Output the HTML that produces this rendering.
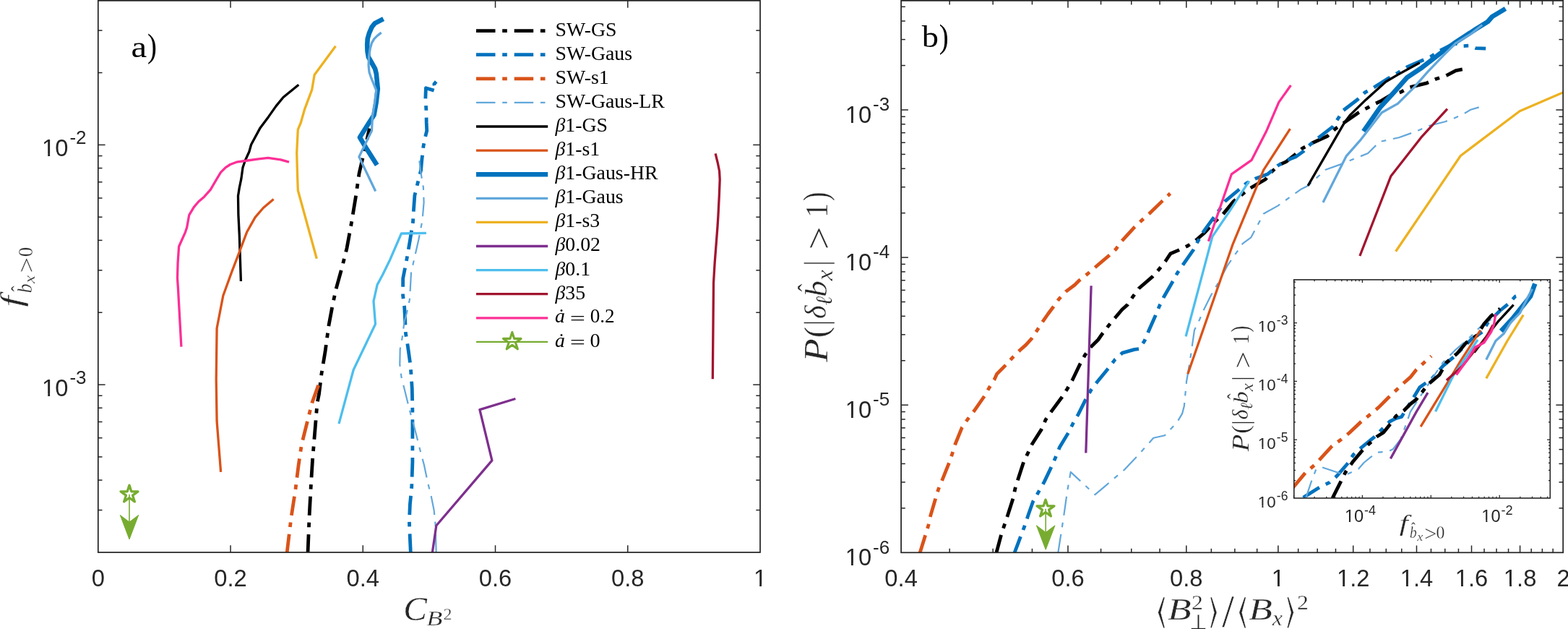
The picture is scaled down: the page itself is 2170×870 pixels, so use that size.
<!DOCTYPE html>
<html><head><meta charset="utf-8"><title>figure</title>
<style>html,body{margin:0;padding:0;background:#fff;}body{width:2170px;height:870px;overflow:hidden;}svg{display:block;}</style>
</head><body>
<svg width="2170" height="870" viewBox="0 0 2170 870">
<defs>
<clipPath id="cl"><rect x="135.8" y="0.9" width="916.2" height="763.1"/></clipPath>
<clipPath id="cr"><rect x="1247.1" y="0.9" width="916.0999999999999" height="763.4"/></clipPath>
<clipPath id="ci"><rect x="1790.8" y="386.9" width="354.5000000000002" height="302.1"/></clipPath>
</defs>
<rect width="2170" height="870" fill="#fff"/>
<g clip-path="url(#cl)">
<polyline points="511.4,177.6 497.0,240.0 492.7,270.0 486.7,306.7 480.0,343.3 473.3,370.0 465.0,400.0 460.0,423.3 455.0,450.0 450.0,486.7 445.0,516.7 441.5,545.0 439.0,557.4 435.5,600.5 432.6,634.9 430.3,672.3 428.0,715.4 425.8,770.0" fill="none" stroke="#000000" stroke-width="4.8" stroke-dasharray="26.5 9.7 6.6 9.9" stroke-dashoffset="10.53" stroke-linejoin="round" stroke-linecap="butt"/>
<polyline points="606.3,109.8 600.8,116.2 602.8,125.8 589.4,121.7 588.8,137.3 589.8,151.3 590.2,169.9 590.7,180.8 588.5,189.6 585.9,202.7 583.7,222.3 582.6,235.4 577.6,255.1 573.9,270.4 572.5,290.0 571.5,307.0 567.5,332.2 562.9,358.6 557.7,385.1 557.6,408.4 559.7,424.9 560.5,440.0 561.5,461.5 564.4,479.1 567.4,500.6 568.9,516.3 570.3,537.8 570.9,569.1 570.9,606.2 570.9,639.1 569.7,674.3 567.4,697.8 566.4,721.3 567.4,744.7 568.6,770.0" fill="none" stroke="#0072BD" stroke-width="4.8" stroke-dasharray="26.5 9.7 6.6 9.9" stroke-dashoffset="32.2" stroke-linejoin="round" stroke-linecap="butt"/>
<polyline points="440.6,532.9 431.8,557.4 424.6,586.1 417.4,614.8 413.1,643.6 408.8,678.0 403.0,715.4 396.5,770.0" fill="none" stroke="#D95319" stroke-width="4.8" stroke-dasharray="26.5 9.7 6.6 9.9" stroke-dashoffset="0.37" stroke-linejoin="round" stroke-linecap="butt"/>
<polyline points="580.4,222.3 582.6,239.8 585.9,259.5 586.6,280.0 584.5,304.8 579.3,331.8 573.1,358.7 569.0,377.3 568.0,395.9 566.9,414.6 562.8,433.2 559.6,445.0 556.6,467.4 553.7,483.0 553.3,504.5 555.6,522.1 559.6,537.8 564.4,557.3 568.4,573.0 571.3,582.7 576.5,603.0 581.1,621.5 586.9,643.0 591.8,666.5 596.7,686.1 600.6,705.6 602.6,725.2 603.8,770.0" fill="none" stroke="#62A7DB" stroke-width="2.2" stroke-dasharray="26.5 9.7 6.6 9.9" stroke-dashoffset="1.78" stroke-linejoin="round" stroke-linecap="butt"/>
<polyline points="413.3,117.2 392.1,134.5 382.1,146.6 371.7,161.4 359.7,177.6 347.6,200.0 344.8,210.0 339.3,222.0 336.0,231.8 333.9,247.1 331.2,260.2 329.5,271.1 329.9,297.3 331.2,323.5 332.1,349.7 333.4,389.0" fill="none" stroke="#000000" stroke-width="3.3" stroke-linejoin="round" stroke-linecap="butt"/>
<polyline points="378.6,275.5 364.4,287.5 353.1,300.6 341.5,321.3 331.7,347.5 320.8,375.9 308.8,409.0 300.1,454.0 299.2,524.8 300.1,582.7 305.6,652.8" fill="none" stroke="#D95319" stroke-width="3.3" stroke-linejoin="round" stroke-linecap="butt"/>
<polyline points="530.6,26.1 518.5,32.4 514.5,37.6 511.0,45.6 508.7,53.7 508.2,61.7 508.5,70.9 509.9,79.0 514.5,87.0 519.1,95.1 520.8,102.0 522.8,122.8 520.7,141.4 517.6,159.0 497.9,190.0 507.2,205.5 521.7,228.3" fill="none" stroke="#0072BD" stroke-width="6.6" stroke-linejoin="round" stroke-linecap="butt"/>
<polyline points="527.7,45.1 522.5,49.1 517.9,53.7 514.5,59.4 512.2,67.5 510.5,79.0 510.1,90.5 511.0,99.7 513.3,106.6 520.7,124.8 518.6,141.4 515.5,160.0 514.5,180.7 496.9,216.9 519.7,264.5" fill="none" stroke="#62A7DB" stroke-width="3.3" stroke-linejoin="round" stroke-linecap="butt"/>
<polyline points="464.5,63.8 435.2,103.4 431.7,124.1 421.4,151.7 416.2,170.0 412.3,179.2 410.7,211.5 411.5,240.0 412.3,263.3 438.3,357.8" fill="none" stroke="#EDB120" stroke-width="3.3" stroke-linejoin="round" stroke-linecap="butt"/>
<polyline points="713.4,551.5 663.9,566.6 680.9,636.9 603.8,727.0 597.5,770.0" fill="none" stroke="#7E2F8E" stroke-width="3.3" stroke-linejoin="round" stroke-linecap="butt"/>
<polyline points="589.9,322.4 555.4,323.0 540.0,358.7 529.6,380.0 522.1,393.9 517.0,416.7 519.5,448.3 489.2,511.5 469.0,586.1" fill="none" stroke="#4DBEEE" stroke-width="3.3" stroke-linejoin="round" stroke-linecap="butt"/>
<polyline points="990.1,212.4 993.3,225.3 995.6,236.8 996.2,248.3 995.4,269.0 993.9,298.9 993.0,313.3 989.1,364.1 987.5,391.4 987.1,434.4 986.3,524.2" fill="none" stroke="#A2142F" stroke-width="3.3" stroke-linejoin="round" stroke-linecap="butt"/>
<polyline points="400.0,224.2 388.4,220.9 371.0,218.3 357.9,219.8 342.6,222.0 327.3,224.2 318.6,227.5 312.0,231.8 305.5,238.4 298.9,249.3 291.3,262.4 282.6,272.2 274.9,278.8 268.4,286.4 261.8,297.3 258.6,314.8 256.4,321.3 247.6,341.0 246.1,362.8 245.5,384.6 246.5,399.9 247.7,421.8 250.9,479.7" fill="none" stroke="#FC2F96" stroke-width="3.3" stroke-linejoin="round" stroke-linecap="butt"/>
</g>
<line x1="135.80" y1="705.54" x2="141.50" y2="705.54" stroke="#262626" stroke-width="1.5"/>
<line x1="1052.00" y1="705.54" x2="1046.30" y2="705.54" stroke="#262626" stroke-width="1.5"/>
<line x1="135.80" y1="664.10" x2="141.50" y2="664.10" stroke="#262626" stroke-width="1.5"/>
<line x1="1052.00" y1="664.10" x2="1046.30" y2="664.10" stroke="#262626" stroke-width="1.5"/>
<line x1="135.80" y1="631.95" x2="141.50" y2="631.95" stroke="#262626" stroke-width="1.5"/>
<line x1="1052.00" y1="631.95" x2="1046.30" y2="631.95" stroke="#262626" stroke-width="1.5"/>
<line x1="135.80" y1="605.69" x2="141.50" y2="605.69" stroke="#262626" stroke-width="1.5"/>
<line x1="1052.00" y1="605.69" x2="1046.30" y2="605.69" stroke="#262626" stroke-width="1.5"/>
<line x1="135.80" y1="583.48" x2="141.50" y2="583.48" stroke="#262626" stroke-width="1.5"/>
<line x1="1052.00" y1="583.48" x2="1046.30" y2="583.48" stroke="#262626" stroke-width="1.5"/>
<line x1="135.80" y1="564.25" x2="141.50" y2="564.25" stroke="#262626" stroke-width="1.5"/>
<line x1="1052.00" y1="564.25" x2="1046.30" y2="564.25" stroke="#262626" stroke-width="1.5"/>
<line x1="135.80" y1="547.28" x2="141.50" y2="547.28" stroke="#262626" stroke-width="1.5"/>
<line x1="1052.00" y1="547.28" x2="1046.30" y2="547.28" stroke="#262626" stroke-width="1.5"/>
<line x1="135.80" y1="532.10" x2="145.60" y2="532.10" stroke="#262626" stroke-width="1.5"/>
<line x1="1052.00" y1="532.10" x2="1042.20" y2="532.10" stroke="#262626" stroke-width="1.5"/>
<line x1="135.80" y1="432.25" x2="141.50" y2="432.25" stroke="#262626" stroke-width="1.5"/>
<line x1="1052.00" y1="432.25" x2="1046.30" y2="432.25" stroke="#262626" stroke-width="1.5"/>
<line x1="135.80" y1="373.84" x2="141.50" y2="373.84" stroke="#262626" stroke-width="1.5"/>
<line x1="1052.00" y1="373.84" x2="1046.30" y2="373.84" stroke="#262626" stroke-width="1.5"/>
<line x1="135.80" y1="332.40" x2="141.50" y2="332.40" stroke="#262626" stroke-width="1.5"/>
<line x1="1052.00" y1="332.40" x2="1046.30" y2="332.40" stroke="#262626" stroke-width="1.5"/>
<line x1="135.80" y1="300.25" x2="141.50" y2="300.25" stroke="#262626" stroke-width="1.5"/>
<line x1="1052.00" y1="300.25" x2="1046.30" y2="300.25" stroke="#262626" stroke-width="1.5"/>
<line x1="135.80" y1="273.99" x2="141.50" y2="273.99" stroke="#262626" stroke-width="1.5"/>
<line x1="1052.00" y1="273.99" x2="1046.30" y2="273.99" stroke="#262626" stroke-width="1.5"/>
<line x1="135.80" y1="251.78" x2="141.50" y2="251.78" stroke="#262626" stroke-width="1.5"/>
<line x1="1052.00" y1="251.78" x2="1046.30" y2="251.78" stroke="#262626" stroke-width="1.5"/>
<line x1="135.80" y1="232.55" x2="141.50" y2="232.55" stroke="#262626" stroke-width="1.5"/>
<line x1="1052.00" y1="232.55" x2="1046.30" y2="232.55" stroke="#262626" stroke-width="1.5"/>
<line x1="135.80" y1="215.58" x2="141.50" y2="215.58" stroke="#262626" stroke-width="1.5"/>
<line x1="1052.00" y1="215.58" x2="1046.30" y2="215.58" stroke="#262626" stroke-width="1.5"/>
<line x1="135.80" y1="200.40" x2="145.60" y2="200.40" stroke="#262626" stroke-width="1.5"/>
<line x1="1052.00" y1="200.40" x2="1042.20" y2="200.40" stroke="#262626" stroke-width="1.5"/>
<line x1="135.80" y1="100.55" x2="141.50" y2="100.55" stroke="#262626" stroke-width="1.5"/>
<line x1="1052.00" y1="100.55" x2="1046.30" y2="100.55" stroke="#262626" stroke-width="1.5"/>
<line x1="135.80" y1="42.14" x2="141.50" y2="42.14" stroke="#262626" stroke-width="1.5"/>
<line x1="1052.00" y1="42.14" x2="1046.30" y2="42.14" stroke="#262626" stroke-width="1.5"/>
<line x1="319.04" y1="764.00" x2="319.04" y2="754.20" stroke="#262626" stroke-width="1.5"/>
<line x1="319.04" y1="0.90" x2="319.04" y2="10.70" stroke="#262626" stroke-width="1.5"/>
<line x1="502.28" y1="764.00" x2="502.28" y2="754.20" stroke="#262626" stroke-width="1.5"/>
<line x1="502.28" y1="0.90" x2="502.28" y2="10.70" stroke="#262626" stroke-width="1.5"/>
<line x1="685.52" y1="764.00" x2="685.52" y2="754.20" stroke="#262626" stroke-width="1.5"/>
<line x1="685.52" y1="0.90" x2="685.52" y2="10.70" stroke="#262626" stroke-width="1.5"/>
<line x1="868.76" y1="764.00" x2="868.76" y2="754.20" stroke="#262626" stroke-width="1.5"/>
<line x1="868.76" y1="0.90" x2="868.76" y2="10.70" stroke="#262626" stroke-width="1.5"/>
<rect x="135.80" y="0.90" width="916.20" height="763.10" fill="none" stroke="#262626" stroke-width="1.75"/>
<text x="126.71" y="811.00" font-family="Liberation Sans" font-size="32.7" fill="#262626">0</text>
<text x="296.31" y="811.00" font-family="Liberation Sans" font-size="32.7" fill="#262626">0</text>
<text x="314.50" y="811.00" font-family="Liberation Sans" font-size="32.7" fill="#262626">.</text>
<text x="323.58" y="811.00" font-family="Liberation Sans" font-size="32.7" fill="#262626">2</text>
<text x="479.55" y="811.00" font-family="Liberation Sans" font-size="32.7" fill="#262626">0</text>
<text x="497.74" y="811.00" font-family="Liberation Sans" font-size="32.7" fill="#262626">.</text>
<text x="506.82" y="811.00" font-family="Liberation Sans" font-size="32.7" fill="#262626">4</text>
<text x="662.79" y="811.00" font-family="Liberation Sans" font-size="32.7" fill="#262626">0</text>
<text x="680.98" y="811.00" font-family="Liberation Sans" font-size="32.7" fill="#262626">.</text>
<text x="690.06" y="811.00" font-family="Liberation Sans" font-size="32.7" fill="#262626">6</text>
<text x="846.03" y="811.00" font-family="Liberation Sans" font-size="32.7" fill="#262626">0</text>
<text x="864.22" y="811.00" font-family="Liberation Sans" font-size="32.7" fill="#262626">.</text>
<text x="873.30" y="811.00" font-family="Liberation Sans" font-size="32.7" fill="#262626">8</text>
<text x="1042.91" y="811.00" font-family="Liberation Sans" font-size="32.7" fill="#262626" clip-path="url(#c1_1)">1</text>
<text x="58.01" y="215.80" font-family="Liberation Sans" font-size="32.7" fill="#262626" clip-path="url(#c1_2)">1</text>
<text x="76.20" y="215.80" font-family="Liberation Sans" font-size="32.7" fill="#262626">0</text>
<text x="96.38" y="199.30" font-family="Liberation Sans" font-size="26" fill="#262626">-</text>
<text x="105.04" y="199.30" font-family="Liberation Sans" font-size="26" fill="#262626">2</text>
<text x="58.01" y="547.70" font-family="Liberation Sans" font-size="32.7" fill="#262626" clip-path="url(#c1_3)">1</text>
<text x="76.20" y="547.70" font-family="Liberation Sans" font-size="32.7" fill="#262626">0</text>
<text x="96.38" y="531.20" font-family="Liberation Sans" font-size="26" fill="#262626">-</text>
<text x="105.04" y="531.20" font-family="Liberation Sans" font-size="26" fill="#262626">3</text>
<text transform="translate(181.38,78.89) scale(0.4886,0.4175)" font-family="Liberation Serif" font-size="100.0" fill="#000">a</text>
<text transform="translate(203.95,79.27) scale(0.3894,0.4709)" font-family="Liberation Serif" font-size="100.0" fill="#000">)</text>
<polyline points="659.0,42.6 758.2,42.6" fill="none" stroke="#000000" stroke-width="4.8" stroke-dasharray="26.5 9.7 6.6 9.9" stroke-linejoin="round" stroke-linecap="butt"/>
<text x="768.50" y="49.50" font-size="27.8" text-anchor="start" font-family="Liberation Serif, Times New Roman, serif" fill="#000">SW-GS</text>
<polyline points="659.0,75.7 758.2,75.7" fill="none" stroke="#0072BD" stroke-width="4.8" stroke-dasharray="26.5 9.7 6.6 9.9" stroke-linejoin="round" stroke-linecap="butt"/>
<text x="768.50" y="82.60" font-size="27.8" text-anchor="start" font-family="Liberation Serif, Times New Roman, serif" fill="#000">SW-Gaus</text>
<polyline points="659.0,108.8 758.2,108.8" fill="none" stroke="#D95319" stroke-width="4.8" stroke-dasharray="26.5 9.7 6.6 9.9" stroke-linejoin="round" stroke-linecap="butt"/>
<text x="768.50" y="115.70" font-size="27.8" text-anchor="start" font-family="Liberation Serif, Times New Roman, serif" fill="#000">SW-s1</text>
<polyline points="659.0,141.9 758.2,141.9" fill="none" stroke="#62A7DB" stroke-width="2.2" stroke-dasharray="26.5 9.7 6.6 9.9" stroke-linejoin="round" stroke-linecap="butt"/>
<text x="768.50" y="148.80" font-size="27.8" text-anchor="start" font-family="Liberation Serif, Times New Roman, serif" fill="#000">SW-Gaus-LR</text>
<polyline points="659.0,175.0 758.2,175.0" fill="none" stroke="#000000" stroke-width="3.3" stroke-linejoin="round" stroke-linecap="butt"/>
<text x="768.50" y="181.90" font-size="27.8" text-anchor="start" font-family="Liberation Serif, Times New Roman, serif" fill="#000"><tspan font-style="italic">β</tspan>1-GS</text>
<polyline points="659.0,208.1 758.2,208.1" fill="none" stroke="#D95319" stroke-width="3.3" stroke-linejoin="round" stroke-linecap="butt"/>
<text x="768.50" y="215.00" font-size="27.8" text-anchor="start" font-family="Liberation Serif, Times New Roman, serif" fill="#000"><tspan font-style="italic">β</tspan>1-s1</text>
<polyline points="659.0,241.2 758.2,241.2" fill="none" stroke="#0072BD" stroke-width="6.6" stroke-linejoin="round" stroke-linecap="butt"/>
<text x="768.50" y="248.10" font-size="27.8" text-anchor="start" font-family="Liberation Serif, Times New Roman, serif" fill="#000"><tspan font-style="italic">β</tspan>1-Gaus-HR</text>
<polyline points="659.0,274.3 758.2,274.3" fill="none" stroke="#62A7DB" stroke-width="3.3" stroke-linejoin="round" stroke-linecap="butt"/>
<text x="768.50" y="281.20" font-size="27.8" text-anchor="start" font-family="Liberation Serif, Times New Roman, serif" fill="#000"><tspan font-style="italic">β</tspan>1-Gaus</text>
<polyline points="659.0,307.4 758.2,307.4" fill="none" stroke="#EDB120" stroke-width="3.3" stroke-linejoin="round" stroke-linecap="butt"/>
<text x="768.50" y="314.30" font-size="27.8" text-anchor="start" font-family="Liberation Serif, Times New Roman, serif" fill="#000"><tspan font-style="italic">β</tspan>1-s3</text>
<polyline points="659.0,340.5 758.2,340.5" fill="none" stroke="#7E2F8E" stroke-width="3.3" stroke-linejoin="round" stroke-linecap="butt"/>
<text x="768.50" y="347.40" font-size="27.8" text-anchor="start" font-family="Liberation Serif, Times New Roman, serif" fill="#000"><tspan font-style="italic">β</tspan>0.02</text>
<polyline points="659.0,373.6 758.2,373.6" fill="none" stroke="#4DBEEE" stroke-width="3.3" stroke-linejoin="round" stroke-linecap="butt"/>
<text x="768.50" y="380.50" font-size="27.8" text-anchor="start" font-family="Liberation Serif, Times New Roman, serif" fill="#000"><tspan font-style="italic">β</tspan>0.1</text>
<polyline points="659.0,406.7 758.2,406.7" fill="none" stroke="#A2142F" stroke-width="3.3" stroke-linejoin="round" stroke-linecap="butt"/>
<text x="768.50" y="413.60" font-size="27.8" text-anchor="start" font-family="Liberation Serif, Times New Roman, serif" fill="#000"><tspan font-style="italic">β</tspan>35</text>
<polyline points="659.0,439.8 758.2,439.8" fill="none" stroke="#FC2F96" stroke-width="3.3" stroke-linejoin="round" stroke-linecap="butt"/>
<text transform="translate(768.07,446.42) scale(0.2774,0.2737)" font-family="Liberation Serif" font-style="italic" font-size="100.0" fill="#000">ȧ</text>
<text transform="translate(788.73,447.57) scale(0.3761,0.2400)" font-family="Liberation Serif" font-size="100.0" fill="#000">=</text>
<text transform="translate(816.67,446.32) scale(0.2715,0.2709)" font-family="Liberation Serif" font-size="100.0" fill="#000" xml:space="preserve">0.2</text>
<polyline points="659.0,472.9 758.2,472.9" fill="none" stroke="#77AC30" stroke-width="2.2" stroke-linejoin="round" stroke-linecap="butt"/>
<text transform="translate(768.07,479.52) scale(0.2774,0.2737)" font-family="Liberation Serif" font-style="italic" font-size="100.0" fill="#000">ȧ</text>
<text transform="translate(788.73,480.67) scale(0.3761,0.2400)" font-family="Liberation Serif" font-size="100.0" fill="#000">=</text>
<text transform="translate(816.62,479.53) scale(0.2831,0.2727)" font-family="Liberation Serif" font-size="100.0" fill="#000">0</text>
<polygon points="708.80,459.50 711.70,468.41 721.07,468.41 713.49,473.92 716.38,482.84 708.80,477.33 701.22,482.84 704.11,473.92 696.53,468.41 705.90,468.41" fill="none" stroke="#77AC30" stroke-width="3.1" stroke-linejoin="round"/>
<line x1="179.00" y1="683.70" x2="179.00" y2="723.10" stroke="#77AC30" stroke-width="1.6"/>
<polygon points="166.30,712.50 179.00,722.10 191.70,712.50 179.00,745.90" fill="#77AC30" stroke="#77AC30" stroke-width="1" stroke-linejoin="round"/>
<polygon points="179.00,671.10 181.83,679.81 190.98,679.81 183.58,685.19 186.41,693.89 179.00,688.51 171.59,693.89 174.42,685.19 167.02,679.81 176.17,679.81" fill="none" stroke="#77AC30" stroke-width="3.3" stroke-linejoin="round"/>
<g clip-path="url(#cr)">
<polyline points="1377.5,772.0 1378.8,765.0 1385.6,739.6 1389.9,726.6 1394.4,713.3 1402.2,688.9 1404.8,676.2 1409.0,662.5 1416.9,638.1 1422.7,626.4 1428.5,614.0 1441.2,594.1 1447.2,580.3 1455.0,569.1 1469.7,549.3 1477.4,537.2 1484.3,525.2 1494.7,503.6 1501.6,491.0 1509.3,480.3 1519.7,470.0 1526.0,461.0 1534.7,449.8 1543.3,439.5 1552.8,428.3 1560.5,421.4 1568.3,409.7 1576.0,399.0 1595.0,382.6 1604.5,371.9 1613.1,361.0 1620.0,350.7 1630.3,346.4 1643.8,340.0 1654.8,332.5 1666.1,322.8 1682.0,306.0 1692.6,296.3 1707.1,278.6 1720.0,268.1 1730.5,260.1 1751.4,248.0 1761.0,236.5 1772.3,227.1 1780.0,223.6 1791.3,214.7 1802.5,205.1 1816.2,197.8 1837.1,188.2 1847.6,178.5 1858.9,170.5 1879.8,156.0 1891.0,149.9 1903.9,143.1 1910.0,140.3 1923.8,132.1 1939.0,127.2 1950.0,121.0 1974.8,114.8 1987.2,109.3 2000.3,105.2 2014.8,97.6 2023.8,95.9" fill="none" stroke="#000000" stroke-width="4.8" stroke-dasharray="26.5 9.7 6.6 9.9" stroke-dashoffset="46.05" stroke-linejoin="round" stroke-linecap="butt"/>
<polyline points="1400.8,772.0 1404.2,764.1 1413.0,740.6 1417.9,727.9 1422.7,713.3 1429.6,693.8 1438.0,679.1 1445.2,666.4 1455.9,643.9 1461.4,631.3 1466.2,619.1 1479.1,597.6 1485.2,585.2 1492.1,573.4 1503.3,551.0 1510.2,539.0 1518.8,527.8 1534.3,508.8 1542.9,497.6 1553.3,488.1 1570.0,483.4 1576.5,482.6 1583.8,471.7 1589.0,459.3 1599.3,436.0 1604.5,423.4 1610.5,411.0 1623.4,388.6 1629.5,377.4 1637.2,366.2 1651.9,345.2 1657.9,333.4 1666.1,319.6 1679.0,301.9 1687.8,289.8 1695.1,278.6 1714.4,262.5 1724.8,253.6 1736.9,247.2 1754.6,240.7 1769.1,228.7 1780.0,222.0 1792.9,217.1 1804.1,209.1 1813.0,200.2 1823.5,191.4 1844.4,175.3 1851.6,164.3 1858.9,152.8 1879.0,137.5 1889.1,127.8 1900.7,121.4 1921.0,108.6 1934.1,101.0 1947.2,92.8 1967.9,83.8 1980.3,78.3 1992.8,70.0 2013.4,59.7 2017.0,61.0 2020.3,63.8 2034.1,63.1 2042.4,66.6 2056.2,67.2" fill="none" stroke="#0072BD" stroke-width="4.8" stroke-dasharray="26.5 9.7 6.6 9.9" stroke-dashoffset="47.06" stroke-linejoin="round" stroke-linecap="butt"/>
<polyline points="1270.8,772.0 1273.3,764.0 1280.5,740.7 1284.8,726.9 1287.8,713.1 1294.7,689.8 1298.6,676.9 1304.3,663.1 1313.3,640.7 1318.1,626.9 1321.9,614.5 1331.4,591.2 1339.1,580.0 1347.8,568.8 1361.6,549.0 1368.8,536.6 1376.2,524.8 1379.7,517.1 1390.9,505.9 1401.2,494.7 1411.6,484.3 1419.7,477.1 1427.7,468.3 1435.7,456.2 1443.0,444.9 1450.2,434.5 1457.5,424.8 1465.5,413.6 1475.2,403.1 1487.2,394.2 1493.7,387.8 1504.9,379.0 1516.2,369.3 1534.2,354.0 1544.4,344.5 1552.4,333.6 1569.7,314.6 1579.4,305.4 1589.8,296.2 1608.2,278.4 1619.5,267.6" fill="none" stroke="#D95319" stroke-width="4.8" stroke-dasharray="26.5 9.7 6.6 9.9" stroke-dashoffset="46.04" stroke-linejoin="round" stroke-linecap="butt"/>
<polyline points="1463.2,772.0 1464.3,764.6 1472.1,714.4 1476.9,680.6 1481.7,652.9 1496.2,666.2 1515.5,684.2 1532.4,669.8 1556.5,649.3 1575.8,628.8 1596.3,605.8 1612.0,602.2 1628.9,584.1 1636.1,572.1 1638.8,561.8 1642.0,528.0 1646.9,499.0 1653.0,456.4 1659.9,442.6 1665.7,428.9 1676.0,408.2 1684.1,394.4 1699.0,366.8 1719.8,336.9 1731.4,328.3 1748.9,295.5 1768.5,284.6 1800.0,262.1 1810.0,257.0 1834.5,234.8 1854.5,227.6 1893.2,212.0 1909.4,196.0 1936.0,190.2 1959.2,182.0 1978.5,173.7 2000.0,168.2 2009.9,164.5 2023.7,158.7 2035.2,151.8 2046.7,148.4" fill="none" stroke="#62A7DB" stroke-width="2.2" stroke-dasharray="26.5 9.7 6.6 9.9" stroke-dashoffset="45.67" stroke-linejoin="round" stroke-linecap="butt"/>
<polyline points="1810.1,256.9 1860.3,170.1 1868.2,159.4 1890.3,137.9 1917.9,113.0 1934.4,103.4 1964.7,86.8" fill="none" stroke="#000000" stroke-width="3.3" stroke-linejoin="round" stroke-linecap="butt"/>
<polyline points="1643.8,517.3 1706.3,337.3 1748.7,235.1 1785.5,178.1" fill="none" stroke="#D95319" stroke-width="3.3" stroke-linejoin="round" stroke-linecap="butt"/>
<polyline points="1887.0,181.7 1910.0,148.6 1928.9,128.0 1947.2,107.2 1967.9,93.4 1992.8,74.1 2014.8,58.3 2042.4,40.3 2059.0,30.0 2065.1,23.0 2083.5,12.0" fill="none" stroke="#0072BD" stroke-width="6.6" stroke-linejoin="round" stroke-linecap="butt"/>
<polyline points="1831.0,279.9 1863.0,216.2 1883.3,193.1 1912.2,155.8 1934.4,143.4 1956.5,121.3 1975.8,99.3 1998.4,75.9 2014.5,59.8 2035.2,47.2 2051.3,34.5" fill="none" stroke="#62A7DB" stroke-width="3.3" stroke-linejoin="round" stroke-linecap="butt"/>
<polyline points="1931.6,347.7 2021.3,215.5 2103.1,153.7 2170.0,125.0" fill="none" stroke="#EDB120" stroke-width="3.3" stroke-linejoin="round" stroke-linecap="butt"/>
<polyline points="1510.1,395.2 1502.8,626.5" fill="none" stroke="#7E2F8E" stroke-width="3.3" stroke-linejoin="round" stroke-linecap="butt"/>
<polyline points="1641.1,465.3 1677.9,327.2 1700.8,293.3 1728.8,250.3" fill="none" stroke="#4DBEEE" stroke-width="3.3" stroke-linejoin="round" stroke-linecap="butt"/>
<polyline points="1881.9,354.0 1925.0,243.4 1966.7,190.2 2003.0,150.7" fill="none" stroke="#A2142F" stroke-width="3.3" stroke-linejoin="round" stroke-linecap="butt"/>
<polyline points="1672.4,333.8 1704.4,240.8 1732.2,221.3 1752.4,181.8 1769.8,141.4 1786.4,118.0" fill="none" stroke="#FC2F96" stroke-width="3.3" stroke-linejoin="round" stroke-linecap="butt"/>
</g>
<line x1="1247.10" y1="702.86" x2="1252.80" y2="702.86" stroke="#262626" stroke-width="1.5"/>
<line x1="2163.20" y1="702.86" x2="2157.50" y2="702.86" stroke="#262626" stroke-width="1.5"/>
<line x1="1247.10" y1="666.92" x2="1252.80" y2="666.92" stroke="#262626" stroke-width="1.5"/>
<line x1="2163.20" y1="666.92" x2="2157.50" y2="666.92" stroke="#262626" stroke-width="1.5"/>
<line x1="1247.10" y1="641.42" x2="1252.80" y2="641.42" stroke="#262626" stroke-width="1.5"/>
<line x1="2163.20" y1="641.42" x2="2157.50" y2="641.42" stroke="#262626" stroke-width="1.5"/>
<line x1="1247.10" y1="621.64" x2="1252.80" y2="621.64" stroke="#262626" stroke-width="1.5"/>
<line x1="2163.20" y1="621.64" x2="2157.50" y2="621.64" stroke="#262626" stroke-width="1.5"/>
<line x1="1247.10" y1="605.48" x2="1252.80" y2="605.48" stroke="#262626" stroke-width="1.5"/>
<line x1="2163.20" y1="605.48" x2="2157.50" y2="605.48" stroke="#262626" stroke-width="1.5"/>
<line x1="1247.10" y1="591.82" x2="1252.80" y2="591.82" stroke="#262626" stroke-width="1.5"/>
<line x1="2163.20" y1="591.82" x2="2157.50" y2="591.82" stroke="#262626" stroke-width="1.5"/>
<line x1="1247.10" y1="579.98" x2="1252.80" y2="579.98" stroke="#262626" stroke-width="1.5"/>
<line x1="2163.20" y1="579.98" x2="2157.50" y2="579.98" stroke="#262626" stroke-width="1.5"/>
<line x1="1247.10" y1="569.54" x2="1252.80" y2="569.54" stroke="#262626" stroke-width="1.5"/>
<line x1="2163.20" y1="569.54" x2="2157.50" y2="569.54" stroke="#262626" stroke-width="1.5"/>
<line x1="1247.10" y1="560.20" x2="1256.90" y2="560.20" stroke="#262626" stroke-width="1.5"/>
<line x1="2163.20" y1="560.20" x2="2153.40" y2="560.20" stroke="#262626" stroke-width="1.5"/>
<line x1="1247.10" y1="498.76" x2="1252.80" y2="498.76" stroke="#262626" stroke-width="1.5"/>
<line x1="2163.20" y1="498.76" x2="2157.50" y2="498.76" stroke="#262626" stroke-width="1.5"/>
<line x1="1247.10" y1="462.82" x2="1252.80" y2="462.82" stroke="#262626" stroke-width="1.5"/>
<line x1="2163.20" y1="462.82" x2="2157.50" y2="462.82" stroke="#262626" stroke-width="1.5"/>
<line x1="1247.10" y1="437.32" x2="1252.80" y2="437.32" stroke="#262626" stroke-width="1.5"/>
<line x1="2163.20" y1="437.32" x2="2157.50" y2="437.32" stroke="#262626" stroke-width="1.5"/>
<line x1="1247.10" y1="417.54" x2="1252.80" y2="417.54" stroke="#262626" stroke-width="1.5"/>
<line x1="2163.20" y1="417.54" x2="2157.50" y2="417.54" stroke="#262626" stroke-width="1.5"/>
<line x1="1247.10" y1="401.38" x2="1252.80" y2="401.38" stroke="#262626" stroke-width="1.5"/>
<line x1="2163.20" y1="401.38" x2="2157.50" y2="401.38" stroke="#262626" stroke-width="1.5"/>
<line x1="1247.10" y1="387.72" x2="1252.80" y2="387.72" stroke="#262626" stroke-width="1.5"/>
<line x1="2163.20" y1="387.72" x2="2157.50" y2="387.72" stroke="#262626" stroke-width="1.5"/>
<line x1="1247.10" y1="375.88" x2="1252.80" y2="375.88" stroke="#262626" stroke-width="1.5"/>
<line x1="2163.20" y1="375.88" x2="2157.50" y2="375.88" stroke="#262626" stroke-width="1.5"/>
<line x1="1247.10" y1="365.44" x2="1252.80" y2="365.44" stroke="#262626" stroke-width="1.5"/>
<line x1="2163.20" y1="365.44" x2="2157.50" y2="365.44" stroke="#262626" stroke-width="1.5"/>
<line x1="1247.10" y1="356.10" x2="1256.90" y2="356.10" stroke="#262626" stroke-width="1.5"/>
<line x1="2163.20" y1="356.10" x2="2153.40" y2="356.10" stroke="#262626" stroke-width="1.5"/>
<line x1="1247.10" y1="294.66" x2="1252.80" y2="294.66" stroke="#262626" stroke-width="1.5"/>
<line x1="2163.20" y1="294.66" x2="2157.50" y2="294.66" stroke="#262626" stroke-width="1.5"/>
<line x1="1247.10" y1="258.72" x2="1252.80" y2="258.72" stroke="#262626" stroke-width="1.5"/>
<line x1="2163.20" y1="258.72" x2="2157.50" y2="258.72" stroke="#262626" stroke-width="1.5"/>
<line x1="1247.10" y1="233.22" x2="1252.80" y2="233.22" stroke="#262626" stroke-width="1.5"/>
<line x1="2163.20" y1="233.22" x2="2157.50" y2="233.22" stroke="#262626" stroke-width="1.5"/>
<line x1="1247.10" y1="213.44" x2="1252.80" y2="213.44" stroke="#262626" stroke-width="1.5"/>
<line x1="2163.20" y1="213.44" x2="2157.50" y2="213.44" stroke="#262626" stroke-width="1.5"/>
<line x1="1247.10" y1="197.28" x2="1252.80" y2="197.28" stroke="#262626" stroke-width="1.5"/>
<line x1="2163.20" y1="197.28" x2="2157.50" y2="197.28" stroke="#262626" stroke-width="1.5"/>
<line x1="1247.10" y1="183.62" x2="1252.80" y2="183.62" stroke="#262626" stroke-width="1.5"/>
<line x1="2163.20" y1="183.62" x2="2157.50" y2="183.62" stroke="#262626" stroke-width="1.5"/>
<line x1="1247.10" y1="171.78" x2="1252.80" y2="171.78" stroke="#262626" stroke-width="1.5"/>
<line x1="2163.20" y1="171.78" x2="2157.50" y2="171.78" stroke="#262626" stroke-width="1.5"/>
<line x1="1247.10" y1="161.34" x2="1252.80" y2="161.34" stroke="#262626" stroke-width="1.5"/>
<line x1="2163.20" y1="161.34" x2="2157.50" y2="161.34" stroke="#262626" stroke-width="1.5"/>
<line x1="1247.10" y1="152.00" x2="1256.90" y2="152.00" stroke="#262626" stroke-width="1.5"/>
<line x1="2163.20" y1="152.00" x2="2153.40" y2="152.00" stroke="#262626" stroke-width="1.5"/>
<line x1="1247.10" y1="90.56" x2="1252.80" y2="90.56" stroke="#262626" stroke-width="1.5"/>
<line x1="2163.20" y1="90.56" x2="2157.50" y2="90.56" stroke="#262626" stroke-width="1.5"/>
<line x1="1247.10" y1="54.62" x2="1252.80" y2="54.62" stroke="#262626" stroke-width="1.5"/>
<line x1="2163.20" y1="54.62" x2="2157.50" y2="54.62" stroke="#262626" stroke-width="1.5"/>
<line x1="1247.10" y1="29.12" x2="1252.80" y2="29.12" stroke="#262626" stroke-width="1.5"/>
<line x1="2163.20" y1="29.12" x2="2157.50" y2="29.12" stroke="#262626" stroke-width="1.5"/>
<line x1="1247.10" y1="9.34" x2="1252.80" y2="9.34" stroke="#262626" stroke-width="1.5"/>
<line x1="2163.20" y1="9.34" x2="2157.50" y2="9.34" stroke="#262626" stroke-width="1.5"/>
<line x1="1477.99" y1="764.30" x2="1477.99" y2="754.50" stroke="#262626" stroke-width="1.5"/>
<line x1="1477.99" y1="0.90" x2="1477.99" y2="10.70" stroke="#262626" stroke-width="1.5"/>
<line x1="1641.81" y1="764.30" x2="1641.81" y2="754.50" stroke="#262626" stroke-width="1.5"/>
<line x1="1641.81" y1="0.90" x2="1641.81" y2="10.70" stroke="#262626" stroke-width="1.5"/>
<line x1="1768.88" y1="764.30" x2="1768.88" y2="754.50" stroke="#262626" stroke-width="1.5"/>
<line x1="1768.88" y1="0.90" x2="1768.88" y2="10.70" stroke="#262626" stroke-width="1.5"/>
<line x1="1872.70" y1="764.30" x2="1872.70" y2="754.50" stroke="#262626" stroke-width="1.5"/>
<line x1="1872.70" y1="0.90" x2="1872.70" y2="10.70" stroke="#262626" stroke-width="1.5"/>
<line x1="1960.48" y1="764.30" x2="1960.48" y2="754.50" stroke="#262626" stroke-width="1.5"/>
<line x1="1960.48" y1="0.90" x2="1960.48" y2="10.70" stroke="#262626" stroke-width="1.5"/>
<line x1="2036.52" y1="764.30" x2="2036.52" y2="754.50" stroke="#262626" stroke-width="1.5"/>
<line x1="2036.52" y1="0.90" x2="2036.52" y2="10.70" stroke="#262626" stroke-width="1.5"/>
<line x1="2103.59" y1="764.30" x2="2103.59" y2="754.50" stroke="#262626" stroke-width="1.5"/>
<line x1="2103.59" y1="0.90" x2="2103.59" y2="10.70" stroke="#262626" stroke-width="1.5"/>
<line x1="1314.17" y1="764.30" x2="1314.17" y2="758.80" stroke="#262626" stroke-width="1.5"/>
<line x1="1314.17" y1="0.90" x2="1314.17" y2="6.40" stroke="#262626" stroke-width="1.5"/>
<line x1="1374.17" y1="764.30" x2="1374.17" y2="758.80" stroke="#262626" stroke-width="1.5"/>
<line x1="1374.17" y1="0.90" x2="1374.17" y2="6.40" stroke="#262626" stroke-width="1.5"/>
<line x1="1428.44" y1="764.30" x2="1428.44" y2="758.80" stroke="#262626" stroke-width="1.5"/>
<line x1="1428.44" y1="0.90" x2="1428.44" y2="6.40" stroke="#262626" stroke-width="1.5"/>
<line x1="1523.57" y1="764.30" x2="1523.57" y2="758.80" stroke="#262626" stroke-width="1.5"/>
<line x1="1523.57" y1="0.90" x2="1523.57" y2="6.40" stroke="#262626" stroke-width="1.5"/>
<line x1="1565.77" y1="764.30" x2="1565.77" y2="758.80" stroke="#262626" stroke-width="1.5"/>
<line x1="1565.77" y1="0.90" x2="1565.77" y2="6.40" stroke="#262626" stroke-width="1.5"/>
<line x1="1605.06" y1="764.30" x2="1605.06" y2="758.80" stroke="#262626" stroke-width="1.5"/>
<line x1="1605.06" y1="0.90" x2="1605.06" y2="6.40" stroke="#262626" stroke-width="1.5"/>
<line x1="1676.33" y1="764.30" x2="1676.33" y2="758.80" stroke="#262626" stroke-width="1.5"/>
<line x1="1676.33" y1="0.90" x2="1676.33" y2="6.40" stroke="#262626" stroke-width="1.5"/>
<line x1="1708.88" y1="764.30" x2="1708.88" y2="758.80" stroke="#262626" stroke-width="1.5"/>
<line x1="1708.88" y1="0.90" x2="1708.88" y2="6.40" stroke="#262626" stroke-width="1.5"/>
<line x1="1739.67" y1="764.30" x2="1739.67" y2="758.80" stroke="#262626" stroke-width="1.5"/>
<line x1="1739.67" y1="0.90" x2="1739.67" y2="6.40" stroke="#262626" stroke-width="1.5"/>
<line x1="1796.66" y1="764.30" x2="1796.66" y2="758.80" stroke="#262626" stroke-width="1.5"/>
<line x1="1796.66" y1="0.90" x2="1796.66" y2="6.40" stroke="#262626" stroke-width="1.5"/>
<line x1="1823.15" y1="764.30" x2="1823.15" y2="758.80" stroke="#262626" stroke-width="1.5"/>
<line x1="1823.15" y1="0.90" x2="1823.15" y2="6.40" stroke="#262626" stroke-width="1.5"/>
<line x1="1848.47" y1="764.30" x2="1848.47" y2="758.80" stroke="#262626" stroke-width="1.5"/>
<line x1="1848.47" y1="0.90" x2="1848.47" y2="6.40" stroke="#262626" stroke-width="1.5"/>
<line x1="1895.95" y1="764.30" x2="1895.95" y2="758.80" stroke="#262626" stroke-width="1.5"/>
<line x1="1895.95" y1="0.90" x2="1895.95" y2="6.40" stroke="#262626" stroke-width="1.5"/>
<line x1="1918.28" y1="764.30" x2="1918.28" y2="758.80" stroke="#262626" stroke-width="1.5"/>
<line x1="1918.28" y1="0.90" x2="1918.28" y2="6.40" stroke="#262626" stroke-width="1.5"/>
<line x1="1939.77" y1="764.30" x2="1939.77" y2="758.80" stroke="#262626" stroke-width="1.5"/>
<line x1="1939.77" y1="0.90" x2="1939.77" y2="6.40" stroke="#262626" stroke-width="1.5"/>
<line x1="1980.46" y1="764.30" x2="1980.46" y2="758.80" stroke="#262626" stroke-width="1.5"/>
<line x1="1980.46" y1="0.90" x2="1980.46" y2="6.40" stroke="#262626" stroke-width="1.5"/>
<line x1="1999.77" y1="764.30" x2="1999.77" y2="758.80" stroke="#262626" stroke-width="1.5"/>
<line x1="1999.77" y1="0.90" x2="1999.77" y2="6.40" stroke="#262626" stroke-width="1.5"/>
<line x1="2018.44" y1="764.30" x2="2018.44" y2="758.80" stroke="#262626" stroke-width="1.5"/>
<line x1="2018.44" y1="0.90" x2="2018.44" y2="6.40" stroke="#262626" stroke-width="1.5"/>
<line x1="2054.04" y1="764.30" x2="2054.04" y2="758.80" stroke="#262626" stroke-width="1.5"/>
<line x1="2054.04" y1="0.90" x2="2054.04" y2="6.40" stroke="#262626" stroke-width="1.5"/>
<line x1="2071.04" y1="764.30" x2="2071.04" y2="758.80" stroke="#262626" stroke-width="1.5"/>
<line x1="2071.04" y1="0.90" x2="2071.04" y2="6.40" stroke="#262626" stroke-width="1.5"/>
<line x1="2087.55" y1="764.30" x2="2087.55" y2="758.80" stroke="#262626" stroke-width="1.5"/>
<line x1="2087.55" y1="0.90" x2="2087.55" y2="6.40" stroke="#262626" stroke-width="1.5"/>
<line x1="2119.19" y1="764.30" x2="2119.19" y2="758.80" stroke="#262626" stroke-width="1.5"/>
<line x1="2119.19" y1="0.90" x2="2119.19" y2="6.40" stroke="#262626" stroke-width="1.5"/>
<line x1="2134.38" y1="764.30" x2="2134.38" y2="758.80" stroke="#262626" stroke-width="1.5"/>
<line x1="2134.38" y1="0.90" x2="2134.38" y2="6.40" stroke="#262626" stroke-width="1.5"/>
<line x1="2149.17" y1="764.30" x2="2149.17" y2="758.80" stroke="#262626" stroke-width="1.5"/>
<line x1="2149.17" y1="0.90" x2="2149.17" y2="6.40" stroke="#262626" stroke-width="1.5"/>
<rect x="1247.10" y="0.90" width="916.10" height="763.40" fill="none" stroke="#262626" stroke-width="1.75"/>
<text x="1224.37" y="811.00" font-family="Liberation Sans" font-size="32.7" fill="#262626">0</text>
<text x="1242.56" y="811.00" font-family="Liberation Sans" font-size="32.7" fill="#262626">.</text>
<text x="1251.64" y="811.00" font-family="Liberation Sans" font-size="32.7" fill="#262626">4</text>
<text x="1455.26" y="811.00" font-family="Liberation Sans" font-size="32.7" fill="#262626">0</text>
<text x="1473.45" y="811.00" font-family="Liberation Sans" font-size="32.7" fill="#262626">.</text>
<text x="1482.53" y="811.00" font-family="Liberation Sans" font-size="32.7" fill="#262626">6</text>
<text x="1619.08" y="811.00" font-family="Liberation Sans" font-size="32.7" fill="#262626">0</text>
<text x="1637.27" y="811.00" font-family="Liberation Sans" font-size="32.7" fill="#262626">.</text>
<text x="1646.35" y="811.00" font-family="Liberation Sans" font-size="32.7" fill="#262626">8</text>
<text x="1759.79" y="811.00" font-family="Liberation Sans" font-size="32.7" fill="#262626" clip-path="url(#c1_4)">1</text>
<text x="1849.97" y="811.00" font-family="Liberation Sans" font-size="32.7" fill="#262626" clip-path="url(#c1_5)">1</text>
<text x="1868.16" y="811.00" font-family="Liberation Sans" font-size="32.7" fill="#262626">.</text>
<text x="1877.24" y="811.00" font-family="Liberation Sans" font-size="32.7" fill="#262626">2</text>
<text x="1937.75" y="811.00" font-family="Liberation Sans" font-size="32.7" fill="#262626" clip-path="url(#c1_6)">1</text>
<text x="1955.94" y="811.00" font-family="Liberation Sans" font-size="32.7" fill="#262626">.</text>
<text x="1965.02" y="811.00" font-family="Liberation Sans" font-size="32.7" fill="#262626">4</text>
<text x="2013.79" y="811.00" font-family="Liberation Sans" font-size="32.7" fill="#262626" clip-path="url(#c1_7)">1</text>
<text x="2031.98" y="811.00" font-family="Liberation Sans" font-size="32.7" fill="#262626">.</text>
<text x="2041.06" y="811.00" font-family="Liberation Sans" font-size="32.7" fill="#262626">6</text>
<text x="2080.86" y="811.00" font-family="Liberation Sans" font-size="32.7" fill="#262626" clip-path="url(#c1_8)">1</text>
<text x="2099.05" y="811.00" font-family="Liberation Sans" font-size="32.7" fill="#262626">.</text>
<text x="2108.13" y="811.00" font-family="Liberation Sans" font-size="32.7" fill="#262626">8</text>
<text x="2154.50" y="811.00" font-family="Liberation Sans" font-size="32.7" fill="#262626">2</text>
<text x="1169.71" y="169.70" font-family="Liberation Sans" font-size="32.7" fill="#262626" clip-path="url(#c1_9)">1</text>
<text x="1187.90" y="169.70" font-family="Liberation Sans" font-size="32.7" fill="#262626">0</text>
<text x="1208.08" y="153.20" font-family="Liberation Sans" font-size="26" fill="#262626">-</text>
<text x="1216.74" y="153.20" font-family="Liberation Sans" font-size="26" fill="#262626">3</text>
<text x="1169.71" y="373.80" font-family="Liberation Sans" font-size="32.7" fill="#262626" clip-path="url(#c1_10)">1</text>
<text x="1187.90" y="373.80" font-family="Liberation Sans" font-size="32.7" fill="#262626">0</text>
<text x="1208.08" y="357.30" font-family="Liberation Sans" font-size="26" fill="#262626">-</text>
<text x="1216.74" y="357.30" font-family="Liberation Sans" font-size="26" fill="#262626">4</text>
<text x="1169.71" y="577.90" font-family="Liberation Sans" font-size="32.7" fill="#262626" clip-path="url(#c1_11)">1</text>
<text x="1187.90" y="577.90" font-family="Liberation Sans" font-size="32.7" fill="#262626">0</text>
<text x="1208.08" y="561.40" font-family="Liberation Sans" font-size="26" fill="#262626">-</text>
<text x="1216.74" y="561.40" font-family="Liberation Sans" font-size="26" fill="#262626">5</text>
<text x="1169.71" y="782.00" font-family="Liberation Sans" font-size="32.7" fill="#262626" clip-path="url(#c1_12)">1</text>
<text x="1187.90" y="782.00" font-family="Liberation Sans" font-size="32.7" fill="#262626">0</text>
<text x="1208.08" y="765.50" font-family="Liberation Sans" font-size="26" fill="#262626">-</text>
<text x="1216.74" y="765.50" font-family="Liberation Sans" font-size="26" fill="#262626">6</text>
<text transform="translate(1275.70,65.08) scale(0.4633,0.4264)" font-family="Liberation Serif" font-size="100.0" fill="#000">b</text>
<text transform="translate(1299.65,65.55) scale(0.3894,0.4676)" font-family="Liberation Serif" font-size="100.0" fill="#000">)</text>
<line x1="1447.20" y1="703.70" x2="1447.20" y2="737.40" stroke="#77AC30" stroke-width="1.6"/>
<polygon points="1434.40,726.80 1447.20,736.40 1460.00,726.80 1447.20,760.20" fill="#77AC30" stroke="#77AC30" stroke-width="1" stroke-linejoin="round"/>
<polygon points="1447.00,691.10 1449.83,699.81 1458.98,699.81 1451.58,705.19 1454.41,713.89 1447.00,708.51 1439.59,713.89 1442.42,705.19 1435.02,699.81 1444.17,699.81" fill="none" stroke="#77AC30" stroke-width="3.3" stroke-linejoin="round"/>
<rect x="1790.8" y="386.9" width="354.5000000000002" height="302.1" fill="#fff"/>
<g clip-path="url(#ci)">
<polyline points="1784.0,681.0 1790.0,673.7 1806.4,654.1 1820.6,642.0 1843.5,616.9 1855.6,608.2 1866.5,599.4 1884.0,583.0 1894.9,574.3 1908.0,563.4 1921.1,550.3 1943.0,529.5 1951.7,521.9 1960.0,511.5 1969.8,502.4 1980.9,492.5" fill="none" stroke="#D95319" stroke-width="4.8" stroke-dasharray="26.5 9.7 6.6 9.9" stroke-dashoffset="44.25" stroke-linejoin="round" stroke-linecap="butt"/>
<polyline points="1798.0,692.0 1804.2,687.9 1825.0,674.8 1840.3,667.2 1850.1,658.4 1864.3,642.0 1873.0,628.9 1884.0,619.1 1901.5,604.9 1912.4,594.0 1923.3,583.0 1932.0,578.7 1939.7,576.5 1943.0,571.0 1950.6,559.0 1964.8,535.8 1982.1,523.4 1997.0,506.1 2011.8,493.8 2024.2,481.4 2036.5,469.1 2051.4,459.2 2058.8,446.8 2076.1,429.5 2088.4,419.6 2097.0,410.0 2100.0,409.0 2103.0,413.0" fill="none" stroke="#0072BD" stroke-width="4.8" stroke-dasharray="26.5 9.7 6.6 9.9" stroke-dashoffset="46.04" stroke-linejoin="round" stroke-linecap="butt"/>
<polyline points="1804.0,696.0 1807.5,687.9 1814.0,668.3 1821.5,648.7 1829.3,646.3 1853.4,654.3 1863.6,656.3 1879.9,648.8 1887.5,640.0 1897.1,632.2 1905.8,625.7 1921.1,624.6 1927.7,621.3 1938.6,607.1 1947.3,583.0 1951.7,569.9 1962.4,553.1 1982.1,523.4 1997.0,501.2 2014.3,483.9 2031.6,469.1 2048.9,451.7 2063.7,441.9" fill="none" stroke="#62A7DB" stroke-width="2.2" stroke-dasharray="26.5 9.7 6.6 9.9" stroke-dashoffset="45.9" stroke-linejoin="round" stroke-linecap="butt"/>
<polyline points="1842.5,694.0 1844.6,687.9 1855.6,666.1 1862.1,653.0 1873.0,637.7 1884.0,624.6 1894.9,613.6 1905.8,603.8 1914.6,598.3 1923.3,587.4 1932.0,575.4 1943.0,567.7 1951.7,559.0 1960.0,552.5 1977.2,530.9 1992.0,518.5 2001.9,501.2 2016.7,488.8 2029.1,474.0 2043.9,464.1 2053.8,448.0 2063.7,436.9 2076.1,427.0" fill="none" stroke="#000000" stroke-width="4.8" stroke-dasharray="26.5 9.7 6.6 9.9" stroke-dashoffset="47.6" stroke-linejoin="round" stroke-linecap="butt"/>
<polyline points="2040.2,487.6 2056.3,466.6 2073.6,444.3 2094.6,421.6" fill="none" stroke="#000000" stroke-width="3.3" stroke-linejoin="round" stroke-linecap="butt"/>
<polyline points="1966.1,590.2 2006.9,523.4 2021.7,498.7 2048.9,456.7" fill="none" stroke="#D95319" stroke-width="3.3" stroke-linejoin="round" stroke-linecap="butt"/>
<polyline points="2077.3,457.9 2093.4,440.6 2108.2,422.1 2118.1,409.7 2124.3,392.4" fill="none" stroke="#0072BD" stroke-width="6.6" stroke-linejoin="round" stroke-linecap="butt"/>
<polyline points="2056.8,497.5 2069.9,471.5 2081.0,461.6 2090.9,445.6 2103.3,433.2 2113.2,413.4 2120.6,399.8" fill="none" stroke="#62A7DB" stroke-width="3.3" stroke-linejoin="round" stroke-linecap="butt"/>
<polyline points="2056.8,523.4 2086.0,471.5 2108.2,435.7" fill="none" stroke="#EDB120" stroke-width="3.3" stroke-linejoin="round" stroke-linecap="butt"/>
<polyline points="1924.4,634.4 1960.0,569.9 1976.0,543.2" fill="none" stroke="#7E2F8E" stroke-width="3.3" stroke-linejoin="round" stroke-linecap="butt"/>
<polyline points="1986.6,569.2 2011.8,518.5 2034.1,486.4 2045.0,470.0" fill="none" stroke="#4DBEEE" stroke-width="3.3" stroke-linejoin="round" stroke-linecap="butt"/>
<polyline points="2001.9,525.9 2024.2,506.1 2041.5,483.9 2053.8,471.5 2066.2,449.3" fill="none" stroke="#A2142F" stroke-width="3.3" stroke-linejoin="round" stroke-linecap="butt"/>
<polyline points="2015.5,518.5 2031.6,496.2 2041.5,480.2 2053.8,474.0 2063.7,459.2 2067.4,449.3 2069.9,434.4" fill="none" stroke="#FC2F96" stroke-width="3.3" stroke-linejoin="round" stroke-linecap="butt"/>
</g>
<line x1="1790.80" y1="664.68" x2="1793.10" y2="664.68" stroke="#262626" stroke-width="1.3"/>
<line x1="2145.30" y1="664.68" x2="2143.00" y2="664.68" stroke="#262626" stroke-width="1.3"/>
<line x1="1790.80" y1="650.45" x2="1793.10" y2="650.45" stroke="#262626" stroke-width="1.3"/>
<line x1="2145.30" y1="650.45" x2="2143.00" y2="650.45" stroke="#262626" stroke-width="1.3"/>
<line x1="1790.80" y1="640.35" x2="1793.10" y2="640.35" stroke="#262626" stroke-width="1.3"/>
<line x1="2145.30" y1="640.35" x2="2143.00" y2="640.35" stroke="#262626" stroke-width="1.3"/>
<line x1="1790.80" y1="632.52" x2="1793.10" y2="632.52" stroke="#262626" stroke-width="1.3"/>
<line x1="2145.30" y1="632.52" x2="2143.00" y2="632.52" stroke="#262626" stroke-width="1.3"/>
<line x1="1790.80" y1="626.13" x2="1793.10" y2="626.13" stroke="#262626" stroke-width="1.3"/>
<line x1="2145.30" y1="626.13" x2="2143.00" y2="626.13" stroke="#262626" stroke-width="1.3"/>
<line x1="1790.80" y1="620.72" x2="1793.10" y2="620.72" stroke="#262626" stroke-width="1.3"/>
<line x1="2145.30" y1="620.72" x2="2143.00" y2="620.72" stroke="#262626" stroke-width="1.3"/>
<line x1="1790.80" y1="616.03" x2="1793.10" y2="616.03" stroke="#262626" stroke-width="1.3"/>
<line x1="2145.30" y1="616.03" x2="2143.00" y2="616.03" stroke="#262626" stroke-width="1.3"/>
<line x1="1790.80" y1="611.90" x2="1793.10" y2="611.90" stroke="#262626" stroke-width="1.3"/>
<line x1="2145.30" y1="611.90" x2="2143.00" y2="611.90" stroke="#262626" stroke-width="1.3"/>
<line x1="1790.80" y1="608.20" x2="1795.00" y2="608.20" stroke="#262626" stroke-width="1.3"/>
<line x1="2145.30" y1="608.20" x2="2141.10" y2="608.20" stroke="#262626" stroke-width="1.3"/>
<line x1="1790.80" y1="583.88" x2="1793.10" y2="583.88" stroke="#262626" stroke-width="1.3"/>
<line x1="2145.30" y1="583.88" x2="2143.00" y2="583.88" stroke="#262626" stroke-width="1.3"/>
<line x1="1790.80" y1="569.65" x2="1793.10" y2="569.65" stroke="#262626" stroke-width="1.3"/>
<line x1="2145.30" y1="569.65" x2="2143.00" y2="569.65" stroke="#262626" stroke-width="1.3"/>
<line x1="1790.80" y1="559.55" x2="1793.10" y2="559.55" stroke="#262626" stroke-width="1.3"/>
<line x1="2145.30" y1="559.55" x2="2143.00" y2="559.55" stroke="#262626" stroke-width="1.3"/>
<line x1="1790.80" y1="551.72" x2="1793.10" y2="551.72" stroke="#262626" stroke-width="1.3"/>
<line x1="2145.30" y1="551.72" x2="2143.00" y2="551.72" stroke="#262626" stroke-width="1.3"/>
<line x1="1790.80" y1="545.33" x2="1793.10" y2="545.33" stroke="#262626" stroke-width="1.3"/>
<line x1="2145.30" y1="545.33" x2="2143.00" y2="545.33" stroke="#262626" stroke-width="1.3"/>
<line x1="1790.80" y1="539.92" x2="1793.10" y2="539.92" stroke="#262626" stroke-width="1.3"/>
<line x1="2145.30" y1="539.92" x2="2143.00" y2="539.92" stroke="#262626" stroke-width="1.3"/>
<line x1="1790.80" y1="535.23" x2="1793.10" y2="535.23" stroke="#262626" stroke-width="1.3"/>
<line x1="2145.30" y1="535.23" x2="2143.00" y2="535.23" stroke="#262626" stroke-width="1.3"/>
<line x1="1790.80" y1="531.10" x2="1793.10" y2="531.10" stroke="#262626" stroke-width="1.3"/>
<line x1="2145.30" y1="531.10" x2="2143.00" y2="531.10" stroke="#262626" stroke-width="1.3"/>
<line x1="1790.80" y1="527.40" x2="1795.00" y2="527.40" stroke="#262626" stroke-width="1.3"/>
<line x1="2145.30" y1="527.40" x2="2141.10" y2="527.40" stroke="#262626" stroke-width="1.3"/>
<line x1="1790.80" y1="503.08" x2="1793.10" y2="503.08" stroke="#262626" stroke-width="1.3"/>
<line x1="2145.30" y1="503.08" x2="2143.00" y2="503.08" stroke="#262626" stroke-width="1.3"/>
<line x1="1790.80" y1="488.85" x2="1793.10" y2="488.85" stroke="#262626" stroke-width="1.3"/>
<line x1="2145.30" y1="488.85" x2="2143.00" y2="488.85" stroke="#262626" stroke-width="1.3"/>
<line x1="1790.80" y1="478.75" x2="1793.10" y2="478.75" stroke="#262626" stroke-width="1.3"/>
<line x1="2145.30" y1="478.75" x2="2143.00" y2="478.75" stroke="#262626" stroke-width="1.3"/>
<line x1="1790.80" y1="470.92" x2="1793.10" y2="470.92" stroke="#262626" stroke-width="1.3"/>
<line x1="2145.30" y1="470.92" x2="2143.00" y2="470.92" stroke="#262626" stroke-width="1.3"/>
<line x1="1790.80" y1="464.53" x2="1793.10" y2="464.53" stroke="#262626" stroke-width="1.3"/>
<line x1="2145.30" y1="464.53" x2="2143.00" y2="464.53" stroke="#262626" stroke-width="1.3"/>
<line x1="1790.80" y1="459.12" x2="1793.10" y2="459.12" stroke="#262626" stroke-width="1.3"/>
<line x1="2145.30" y1="459.12" x2="2143.00" y2="459.12" stroke="#262626" stroke-width="1.3"/>
<line x1="1790.80" y1="454.43" x2="1793.10" y2="454.43" stroke="#262626" stroke-width="1.3"/>
<line x1="2145.30" y1="454.43" x2="2143.00" y2="454.43" stroke="#262626" stroke-width="1.3"/>
<line x1="1790.80" y1="450.30" x2="1793.10" y2="450.30" stroke="#262626" stroke-width="1.3"/>
<line x1="2145.30" y1="450.30" x2="2143.00" y2="450.30" stroke="#262626" stroke-width="1.3"/>
<line x1="1790.80" y1="446.60" x2="1795.00" y2="446.60" stroke="#262626" stroke-width="1.3"/>
<line x1="2145.30" y1="446.60" x2="2141.10" y2="446.60" stroke="#262626" stroke-width="1.3"/>
<line x1="1790.80" y1="422.28" x2="1793.10" y2="422.28" stroke="#262626" stroke-width="1.3"/>
<line x1="2145.30" y1="422.28" x2="2143.00" y2="422.28" stroke="#262626" stroke-width="1.3"/>
<line x1="1790.80" y1="408.05" x2="1793.10" y2="408.05" stroke="#262626" stroke-width="1.3"/>
<line x1="2145.30" y1="408.05" x2="2143.00" y2="408.05" stroke="#262626" stroke-width="1.3"/>
<line x1="1790.80" y1="397.95" x2="1793.10" y2="397.95" stroke="#262626" stroke-width="1.3"/>
<line x1="2145.30" y1="397.95" x2="2143.00" y2="397.95" stroke="#262626" stroke-width="1.3"/>
<line x1="1790.80" y1="390.12" x2="1793.10" y2="390.12" stroke="#262626" stroke-width="1.3"/>
<line x1="2145.30" y1="390.12" x2="2143.00" y2="390.12" stroke="#262626" stroke-width="1.3"/>
<line x1="1790.50" y1="689.00" x2="1790.50" y2="684.80" stroke="#262626" stroke-width="1.3"/>
<line x1="1790.50" y1="386.90" x2="1790.50" y2="391.10" stroke="#262626" stroke-width="1.3"/>
<line x1="1819.07" y1="689.00" x2="1819.07" y2="686.70" stroke="#262626" stroke-width="1.3"/>
<line x1="1819.07" y1="386.90" x2="1819.07" y2="389.20" stroke="#262626" stroke-width="1.3"/>
<line x1="1835.78" y1="689.00" x2="1835.78" y2="686.70" stroke="#262626" stroke-width="1.3"/>
<line x1="1835.78" y1="386.90" x2="1835.78" y2="389.20" stroke="#262626" stroke-width="1.3"/>
<line x1="1847.64" y1="689.00" x2="1847.64" y2="686.70" stroke="#262626" stroke-width="1.3"/>
<line x1="1847.64" y1="386.90" x2="1847.64" y2="389.20" stroke="#262626" stroke-width="1.3"/>
<line x1="1856.83" y1="689.00" x2="1856.83" y2="686.70" stroke="#262626" stroke-width="1.3"/>
<line x1="1856.83" y1="386.90" x2="1856.83" y2="389.20" stroke="#262626" stroke-width="1.3"/>
<line x1="1864.35" y1="689.00" x2="1864.35" y2="686.70" stroke="#262626" stroke-width="1.3"/>
<line x1="1864.35" y1="386.90" x2="1864.35" y2="389.20" stroke="#262626" stroke-width="1.3"/>
<line x1="1870.70" y1="689.00" x2="1870.70" y2="686.70" stroke="#262626" stroke-width="1.3"/>
<line x1="1870.70" y1="386.90" x2="1870.70" y2="389.20" stroke="#262626" stroke-width="1.3"/>
<line x1="1876.20" y1="689.00" x2="1876.20" y2="686.70" stroke="#262626" stroke-width="1.3"/>
<line x1="1876.20" y1="386.90" x2="1876.20" y2="389.20" stroke="#262626" stroke-width="1.3"/>
<line x1="1881.06" y1="689.00" x2="1881.06" y2="686.70" stroke="#262626" stroke-width="1.3"/>
<line x1="1881.06" y1="386.90" x2="1881.06" y2="389.20" stroke="#262626" stroke-width="1.3"/>
<line x1="1885.40" y1="689.00" x2="1885.40" y2="684.80" stroke="#262626" stroke-width="1.3"/>
<line x1="1885.40" y1="386.90" x2="1885.40" y2="391.10" stroke="#262626" stroke-width="1.3"/>
<line x1="1913.97" y1="689.00" x2="1913.97" y2="686.70" stroke="#262626" stroke-width="1.3"/>
<line x1="1913.97" y1="386.90" x2="1913.97" y2="389.20" stroke="#262626" stroke-width="1.3"/>
<line x1="1930.68" y1="689.00" x2="1930.68" y2="686.70" stroke="#262626" stroke-width="1.3"/>
<line x1="1930.68" y1="386.90" x2="1930.68" y2="389.20" stroke="#262626" stroke-width="1.3"/>
<line x1="1942.54" y1="689.00" x2="1942.54" y2="686.70" stroke="#262626" stroke-width="1.3"/>
<line x1="1942.54" y1="386.90" x2="1942.54" y2="389.20" stroke="#262626" stroke-width="1.3"/>
<line x1="1951.73" y1="689.00" x2="1951.73" y2="686.70" stroke="#262626" stroke-width="1.3"/>
<line x1="1951.73" y1="386.90" x2="1951.73" y2="389.20" stroke="#262626" stroke-width="1.3"/>
<line x1="1959.25" y1="689.00" x2="1959.25" y2="686.70" stroke="#262626" stroke-width="1.3"/>
<line x1="1959.25" y1="386.90" x2="1959.25" y2="389.20" stroke="#262626" stroke-width="1.3"/>
<line x1="1965.60" y1="689.00" x2="1965.60" y2="686.70" stroke="#262626" stroke-width="1.3"/>
<line x1="1965.60" y1="386.90" x2="1965.60" y2="389.20" stroke="#262626" stroke-width="1.3"/>
<line x1="1971.10" y1="689.00" x2="1971.10" y2="686.70" stroke="#262626" stroke-width="1.3"/>
<line x1="1971.10" y1="386.90" x2="1971.10" y2="389.20" stroke="#262626" stroke-width="1.3"/>
<line x1="1975.96" y1="689.00" x2="1975.96" y2="686.70" stroke="#262626" stroke-width="1.3"/>
<line x1="1975.96" y1="386.90" x2="1975.96" y2="389.20" stroke="#262626" stroke-width="1.3"/>
<line x1="1980.30" y1="689.00" x2="1980.30" y2="684.80" stroke="#262626" stroke-width="1.3"/>
<line x1="1980.30" y1="386.90" x2="1980.30" y2="391.10" stroke="#262626" stroke-width="1.3"/>
<line x1="2008.87" y1="689.00" x2="2008.87" y2="686.70" stroke="#262626" stroke-width="1.3"/>
<line x1="2008.87" y1="386.90" x2="2008.87" y2="389.20" stroke="#262626" stroke-width="1.3"/>
<line x1="2025.58" y1="689.00" x2="2025.58" y2="686.70" stroke="#262626" stroke-width="1.3"/>
<line x1="2025.58" y1="386.90" x2="2025.58" y2="389.20" stroke="#262626" stroke-width="1.3"/>
<line x1="2037.44" y1="689.00" x2="2037.44" y2="686.70" stroke="#262626" stroke-width="1.3"/>
<line x1="2037.44" y1="386.90" x2="2037.44" y2="389.20" stroke="#262626" stroke-width="1.3"/>
<line x1="2046.63" y1="689.00" x2="2046.63" y2="686.70" stroke="#262626" stroke-width="1.3"/>
<line x1="2046.63" y1="386.90" x2="2046.63" y2="389.20" stroke="#262626" stroke-width="1.3"/>
<line x1="2054.15" y1="689.00" x2="2054.15" y2="686.70" stroke="#262626" stroke-width="1.3"/>
<line x1="2054.15" y1="386.90" x2="2054.15" y2="389.20" stroke="#262626" stroke-width="1.3"/>
<line x1="2060.50" y1="689.00" x2="2060.50" y2="686.70" stroke="#262626" stroke-width="1.3"/>
<line x1="2060.50" y1="386.90" x2="2060.50" y2="389.20" stroke="#262626" stroke-width="1.3"/>
<line x1="2066.00" y1="689.00" x2="2066.00" y2="686.70" stroke="#262626" stroke-width="1.3"/>
<line x1="2066.00" y1="386.90" x2="2066.00" y2="389.20" stroke="#262626" stroke-width="1.3"/>
<line x1="2070.86" y1="689.00" x2="2070.86" y2="686.70" stroke="#262626" stroke-width="1.3"/>
<line x1="2070.86" y1="386.90" x2="2070.86" y2="389.20" stroke="#262626" stroke-width="1.3"/>
<line x1="2075.20" y1="689.00" x2="2075.20" y2="684.80" stroke="#262626" stroke-width="1.3"/>
<line x1="2075.20" y1="386.90" x2="2075.20" y2="391.10" stroke="#262626" stroke-width="1.3"/>
<line x1="2103.77" y1="689.00" x2="2103.77" y2="686.70" stroke="#262626" stroke-width="1.3"/>
<line x1="2103.77" y1="386.90" x2="2103.77" y2="389.20" stroke="#262626" stroke-width="1.3"/>
<line x1="2120.48" y1="689.00" x2="2120.48" y2="686.70" stroke="#262626" stroke-width="1.3"/>
<line x1="2120.48" y1="386.90" x2="2120.48" y2="389.20" stroke="#262626" stroke-width="1.3"/>
<line x1="2132.34" y1="689.00" x2="2132.34" y2="686.70" stroke="#262626" stroke-width="1.3"/>
<line x1="2132.34" y1="386.90" x2="2132.34" y2="389.20" stroke="#262626" stroke-width="1.3"/>
<line x1="2141.53" y1="689.00" x2="2141.53" y2="686.70" stroke="#262626" stroke-width="1.3"/>
<line x1="2141.53" y1="386.90" x2="2141.53" y2="389.20" stroke="#262626" stroke-width="1.3"/>
<rect x="1790.80" y="386.90" width="354.50" height="302.10" fill="none" stroke="#262626" stroke-width="1.6"/>
<text x="1740.84" y="459.40" font-family="Liberation Sans" font-size="22.3" fill="#262626" clip-path="url(#c1_13)">1</text>
<text x="1753.24" y="459.40" font-family="Liberation Sans" font-size="22.3" fill="#262626">0</text>
<text x="1766.84" y="449.40" font-family="Liberation Sans" font-size="17.5" fill="#262626">-</text>
<text x="1772.67" y="449.40" font-family="Liberation Sans" font-size="17.5" fill="#262626">3</text>
<text x="1740.84" y="540.20" font-family="Liberation Sans" font-size="22.3" fill="#262626" clip-path="url(#c1_14)">1</text>
<text x="1753.24" y="540.20" font-family="Liberation Sans" font-size="22.3" fill="#262626">0</text>
<text x="1766.84" y="530.20" font-family="Liberation Sans" font-size="17.5" fill="#262626">-</text>
<text x="1772.67" y="530.20" font-family="Liberation Sans" font-size="17.5" fill="#262626">4</text>
<text x="1740.84" y="621.00" font-family="Liberation Sans" font-size="22.3" fill="#262626" clip-path="url(#c1_15)">1</text>
<text x="1753.24" y="621.00" font-family="Liberation Sans" font-size="22.3" fill="#262626">0</text>
<text x="1766.84" y="611.00" font-family="Liberation Sans" font-size="17.5" fill="#262626">-</text>
<text x="1772.67" y="611.00" font-family="Liberation Sans" font-size="17.5" fill="#262626">5</text>
<text x="1740.84" y="701.80" font-family="Liberation Sans" font-size="22.3" fill="#262626" clip-path="url(#c1_16)">1</text>
<text x="1753.24" y="701.80" font-family="Liberation Sans" font-size="22.3" fill="#262626">0</text>
<text x="1766.84" y="691.80" font-family="Liberation Sans" font-size="17.5" fill="#262626">-</text>
<text x="1772.67" y="691.80" font-family="Liberation Sans" font-size="17.5" fill="#262626">6</text>
<text x="1860.97" y="722.00" font-family="Liberation Sans" font-size="23.6" fill="#262626" clip-path="url(#c1_17)">1</text>
<text x="1874.09" y="722.00" font-family="Liberation Sans" font-size="23.6" fill="#262626">0</text>
<text x="1888.02" y="712.00" font-family="Liberation Sans" font-size="18.2" fill="#262626">-</text>
<text x="1894.08" y="712.00" font-family="Liberation Sans" font-size="18.2" fill="#262626">4</text>
<text x="2050.37" y="722.00" font-family="Liberation Sans" font-size="23.6" fill="#262626" clip-path="url(#c1_18)">1</text>
<text x="2063.49" y="722.00" font-family="Liberation Sans" font-size="23.6" fill="#262626">0</text>
<text x="2077.42" y="712.00" font-family="Liberation Sans" font-size="18.2" fill="#262626">-</text>
<text x="2083.48" y="712.00" font-family="Liberation Sans" font-size="18.2" fill="#262626">2</text>
<text transform="translate(558.27,857.87) scale(0.4898,0.4677)" font-family="Liberation Serif" font-style="italic" stroke="#fff" stroke-width="0.731" font-size="100.0" fill="#262626">C</text>
<text transform="translate(590.36,864.71) scale(0.3623,0.2980)" font-family="Liberation Serif" font-style="italic" stroke="#fff" stroke-width="1.065" font-size="100.0" fill="#262626">B</text>
<text transform="translate(613.45,856.90) scale(0.2395,0.2401)" font-family="Liberation Serif" stroke="#fff" stroke-width="1.460" font-size="100.0" fill="#262626">2</text>
<text transform="translate(1600.06,860.60) scale(0.3298,0.5036)" font-family="DejaVu Math TeX Gyre" stroke="#fff" stroke-width="0.859" font-size="100.0" fill="#262626">⟨</text>
<text transform="translate(1616.00,857.37) scale(0.5349,0.4288)" font-family="Liberation Serif" font-style="italic" stroke="#fff" stroke-width="0.731" font-size="100.0" fill="#262626">B</text>
<text transform="translate(1648.91,842.60) scale(0.3168,0.2930)" font-family="Liberation Serif" stroke="#fff" stroke-width="1.149" font-size="100.0" fill="#262626">2</text>
<text transform="translate(1646.06,871.00) scale(0.3169,0.2970)" font-family="DejaVu Math TeX Gyre" stroke="#fff" stroke-width="1.141" font-size="100.0" fill="#262626">⊥</text>
<text transform="translate(1673.56,860.60) scale(0.3088,0.5036)" font-family="DejaVu Math TeX Gyre" stroke="#fff" stroke-width="0.888" font-size="100.0" fill="#262626">⟩</text>
<text transform="translate(1691.20,867.38) scale(0.5975,0.6353)" font-family="Liberation Serif" stroke="#fff" stroke-width="0.568" font-size="100.0" fill="#262626">/</text>
<text transform="translate(1712.36,860.60) scale(0.3298,0.5036)" font-family="DejaVu Math TeX Gyre" stroke="#fff" stroke-width="0.859" font-size="100.0" fill="#262626">⟨</text>
<text transform="translate(1728.30,857.37) scale(0.5349,0.4288)" font-family="Liberation Serif" font-style="italic" stroke="#fff" stroke-width="0.731" font-size="100.0" fill="#262626">B</text>
<text transform="translate(1760.69,864.70) scale(0.3209,0.3007)" font-family="Liberation Serif" font-style="italic" stroke="#fff" stroke-width="1.127" font-size="100.0" fill="#262626">x</text>
<text transform="translate(1779.64,860.60) scale(0.3123,0.5036)" font-family="DejaVu Math TeX Gyre" stroke="#fff" stroke-width="0.883" font-size="100.0" fill="#262626">⟩</text>
<text transform="translate(1794.91,842.60) scale(0.3168,0.3006)" font-family="Liberation Serif" stroke="#fff" stroke-width="1.134" font-size="100.0" fill="#262626">2</text>
<text transform="translate(29.86,424.61) rotate(-90) scale(0.5447,0.4199)" font-family="Liberation Serif" font-style="italic" stroke="#fff" stroke-width="0.732" font-size="100.0" fill="#262626">f</text>
<text transform="translate(36.46,403.83) rotate(-90) scale(0.2623,0.3012)" font-family="Liberation Serif" stroke="#fff" stroke-width="1.245" font-size="100.0" fill="#262626">ˆ</text>
<text transform="translate(44.21,405.24) rotate(-90) scale(0.2543,0.2999)" font-family="Liberation Serif" font-style="italic" stroke="#fff" stroke-width="1.268" font-size="100.0" fill="#262626">b</text>
<text transform="translate(48.00,391.99) rotate(-90) scale(0.2541,0.2135)" font-family="Liberation Serif" font-style="italic" stroke="#fff" stroke-width="1.503" font-size="100.0" fill="#262626">x</text>
<text transform="translate(47.89,377.86) rotate(-90) scale(0.3868,0.3400)" font-family="Liberation Serif" stroke="#fff" stroke-width="0.965" font-size="100.0" fill="#262626">&gt;</text>
<text transform="translate(44.51,355.13) rotate(-90) scale(0.2713,0.2993)" font-family="Liberation Serif" stroke="#fff" stroke-width="1.228" font-size="100.0" fill="#262626">0</text>
<text transform="translate(1144.90,500.81) rotate(-90) scale(0.5315,0.4566)" font-family="Liberation Serif" font-style="italic" stroke="#fff" stroke-width="0.710" font-size="100.0" fill="#262626">P</text>
<text transform="translate(1145.30,467.35) rotate(-90) scale(0.4672,0.4698)" font-family="Liberation Serif" stroke="#fff" stroke-width="0.747" font-size="100.0" fill="#262626">(</text>
<text transform="translate(1145.39,450.62) rotate(-90) scale(0.4016,0.4683)" font-family="Liberation Serif" stroke="#fff" stroke-width="0.807" font-size="100.0" fill="#262626">|</text>
<text transform="translate(1142.99,440.97) rotate(-90) scale(0.3989,0.4220)" font-family="Liberation Serif" font-style="italic" stroke="#fff" stroke-width="0.853" font-size="100.0" fill="#262626">δ</text>
<text transform="translate(1151.29,422.53) rotate(-90) scale(0.3068,0.3199)" font-family="Liberation Serif" font-style="italic" stroke="#fff" stroke-width="1.117" font-size="100.0" fill="#262626">ℓ</text>
<text transform="translate(1132.44,403.49) rotate(-90) scale(0.3319,0.4016)" font-family="Liberation Serif" stroke="#fff" stroke-width="0.959" font-size="100.0" fill="#262626">ˆ</text>
<text transform="translate(1143.60,410.87) rotate(-90) scale(0.4507,0.4122)" font-family="Liberation Serif" font-style="italic" stroke="#fff" stroke-width="0.812" font-size="100.0" fill="#262626">b</text>
<text transform="translate(1152.30,388.18) rotate(-90) scale(0.3410,0.3159)" font-family="Liberation Serif" font-style="italic" stroke="#fff" stroke-width="1.066" font-size="100.0" fill="#262626">x</text>
<text transform="translate(1145.39,368.12) rotate(-90) scale(0.4016,0.4683)" font-family="Liberation Serif" stroke="#fff" stroke-width="0.807" font-size="100.0" fill="#262626">|</text>
<text transform="translate(1151.41,345.59) rotate(-90) scale(0.5695,0.5182)" font-family="Liberation Serif" stroke="#fff" stroke-width="0.644" font-size="100.0" fill="#262626">&gt;</text>
<text transform="translate(1145.10,300.70) rotate(-90) scale(0.3977,0.4393)" font-family="Liberation Serif" stroke="#fff" stroke-width="0.837" font-size="100.0" fill="#262626">1</text>
<text transform="translate(1145.31,277.90) rotate(-90) scale(0.3738,0.4786)" font-family="Liberation Serif" stroke="#fff" stroke-width="0.827" font-size="100.0" fill="#262626">)</text>
<text transform="translate(1728.18,624.49) rotate(-90) scale(0.3929,0.3367)" font-family="Liberation Serif" font-style="italic" stroke="#fff" stroke-width="0.722" font-size="100.0" fill="#262626">P</text>
<text transform="translate(1728.48,599.75) rotate(-90) scale(0.3454,0.3464)" font-family="Liberation Serif" stroke="#fff" stroke-width="0.759" font-size="100.0" fill="#262626">(</text>
<text transform="translate(1728.55,587.38) rotate(-90) scale(0.2969,0.3453)" font-family="Liberation Serif" stroke="#fff" stroke-width="0.820" font-size="100.0" fill="#262626">|</text>
<text transform="translate(1726.77,580.24) rotate(-90) scale(0.2949,0.3112)" font-family="Liberation Serif" font-style="italic" stroke="#fff" stroke-width="0.867" font-size="100.0" fill="#262626">δ</text>
<text transform="translate(1732.89,566.61) rotate(-90) scale(0.2268,0.2358)" font-family="Liberation Serif" font-style="italic" stroke="#fff" stroke-width="1.135" font-size="100.0" fill="#262626">ℓ</text>
<text transform="translate(1719.00,552.54) rotate(-90) scale(0.2453,0.2961)" font-family="Liberation Serif" stroke="#fff" stroke-width="0.974" font-size="100.0" fill="#262626">ˆ</text>
<text transform="translate(1727.22,557.99) rotate(-90) scale(0.3332,0.3039)" font-family="Liberation Serif" font-style="italic" stroke="#fff" stroke-width="0.825" font-size="100.0" fill="#262626">b</text>
<text transform="translate(1733.64,541.22) rotate(-90) scale(0.2521,0.2329)" font-family="Liberation Serif" font-style="italic" stroke="#fff" stroke-width="1.083" font-size="100.0" fill="#262626">x</text>
<text transform="translate(1728.55,526.39) rotate(-90) scale(0.2969,0.3453)" font-family="Liberation Serif" stroke="#fff" stroke-width="0.820" font-size="100.0" fill="#262626">|</text>
<text transform="translate(1732.98,509.73) rotate(-90) scale(0.4210,0.3821)" font-family="Liberation Serif" stroke="#fff" stroke-width="0.654" font-size="100.0" fill="#262626">&gt;</text>
<text transform="translate(1728.33,476.54) rotate(-90) scale(0.2940,0.3239)" font-family="Liberation Serif" stroke="#fff" stroke-width="0.851" font-size="100.0" fill="#262626">1</text>
<text transform="translate(1728.49,459.69) rotate(-90) scale(0.2763,0.3529)" font-family="Liberation Serif" stroke="#fff" stroke-width="0.841" font-size="100.0" fill="#262626">)</text>
<text transform="translate(1936.81,733.78) scale(0.4321,0.3250)" font-family="Liberation Serif" font-style="italic" stroke="#fff" stroke-width="0.700" font-size="100.0" fill="#262626">f</text>
<text transform="translate(1952.63,738.83) scale(0.1896,0.2276)" font-family="Liberation Serif" stroke="#fff" stroke-width="1.264" font-size="100.0" fill="#262626">ˆ</text>
<text transform="translate(1951.08,744.48) scale(0.1942,0.2288)" font-family="Liberation Serif" font-style="italic" stroke="#fff" stroke-width="1.245" font-size="100.0" fill="#262626">b</text>
<text transform="translate(1961.22,747.50) scale(0.1805,0.1569)" font-family="Liberation Serif" font-style="italic" stroke="#fff" stroke-width="1.560" font-size="100.0" fill="#262626">x</text>
<text transform="translate(1971.16,747.68) scale(0.3030,0.2840)" font-family="Liberation Serif" stroke="#fff" stroke-width="0.895" font-size="100.0" fill="#262626">&gt;</text>
<text transform="translate(1987.49,744.86) scale(0.2383,0.2445)" font-family="Liberation Serif" stroke="#fff" stroke-width="1.087" font-size="100.0" fill="#262626">0</text>
<defs><clipPath id="c1_1"><rect x="1040.91" y="786.33" width="22.19" height="21.33"/><rect x="1051.13" y="807.36" width="2.89" height="4.94"/></clipPath><clipPath id="c1_2"><rect x="56.01" y="191.13" width="22.19" height="21.33"/><rect x="66.23" y="212.16" width="2.89" height="4.94"/></clipPath><clipPath id="c1_3"><rect x="56.01" y="523.03" width="22.19" height="21.33"/><rect x="66.23" y="544.06" width="2.89" height="4.94"/></clipPath><clipPath id="c1_4"><rect x="1757.79" y="786.33" width="22.19" height="21.33"/><rect x="1768.01" y="807.36" width="2.89" height="4.94"/></clipPath><clipPath id="c1_5"><rect x="1847.97" y="786.33" width="22.19" height="21.33"/><rect x="1858.20" y="807.36" width="2.89" height="4.94"/></clipPath><clipPath id="c1_6"><rect x="1935.75" y="786.33" width="22.19" height="21.33"/><rect x="1945.98" y="807.36" width="2.89" height="4.94"/></clipPath><clipPath id="c1_7"><rect x="2011.79" y="786.33" width="22.19" height="21.33"/><rect x="2022.02" y="807.36" width="2.89" height="4.94"/></clipPath><clipPath id="c1_8"><rect x="2078.86" y="786.33" width="22.19" height="21.33"/><rect x="2089.09" y="807.36" width="2.89" height="4.94"/></clipPath><clipPath id="c1_9"><rect x="1167.71" y="145.03" width="22.19" height="21.33"/><rect x="1177.93" y="166.06" width="2.89" height="4.94"/></clipPath><clipPath id="c1_10"><rect x="1167.71" y="349.13" width="22.19" height="21.33"/><rect x="1177.93" y="370.16" width="2.89" height="4.94"/></clipPath><clipPath id="c1_11"><rect x="1167.71" y="553.23" width="22.19" height="21.33"/><rect x="1177.93" y="574.26" width="2.89" height="4.94"/></clipPath><clipPath id="c1_12"><rect x="1167.71" y="757.33" width="22.19" height="21.33"/><rect x="1177.93" y="778.36" width="2.89" height="4.94"/></clipPath><clipPath id="c1_13"><rect x="1738.84" y="441.94" width="16.40" height="14.90"/><rect x="1746.44" y="456.53" width="1.97" height="4.17"/></clipPath><clipPath id="c1_14"><rect x="1738.84" y="522.74" width="16.40" height="14.90"/><rect x="1746.44" y="537.33" width="1.97" height="4.17"/></clipPath><clipPath id="c1_15"><rect x="1738.84" y="603.54" width="16.40" height="14.90"/><rect x="1746.44" y="618.13" width="1.97" height="4.17"/></clipPath><clipPath id="c1_16"><rect x="1738.84" y="684.34" width="16.40" height="14.90"/><rect x="1746.44" y="698.93" width="1.97" height="4.17"/></clipPath><clipPath id="c1_17"><rect x="1858.97" y="703.64" width="17.13" height="15.70"/><rect x="1866.90" y="719.04" width="2.09" height="4.26"/></clipPath><clipPath id="c1_18"><rect x="2048.37" y="703.64" width="17.13" height="15.70"/><rect x="2056.30" y="719.04" width="2.09" height="4.26"/></clipPath></defs>
</svg>
</body></html>
